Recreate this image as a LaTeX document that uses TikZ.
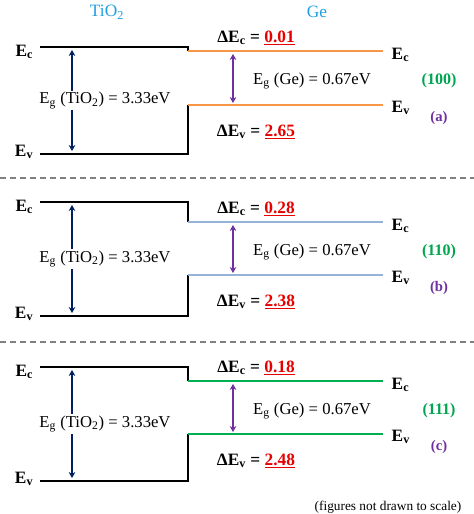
\documentclass[tikz,border=0pt]{standalone}
\usepackage{fontspec}
\setmainfont{Liberation Serif}
\usetikzlibrary{arrows.meta}

\definecolor{headblue}{RGB}{30,160,225}
\definecolor{georange}{RGB}{247,150,70}
\definecolor{gelblue}{RGB}{149,179,215}
\definecolor{gegreen}{RGB}{0,176,80}
\definecolor{arrnavy}{RGB}{0,32,96}
\definecolor{arrpurple}{RGB}{112,48,160}
\definecolor{valred}{RGB}{230,0,0}
\definecolor{hklgreen}{RGB}{0,165,80}

\newcommand{\val}[1]{\textcolor{valred}{\underline{#1}}}

\tikzset{
    tio/.style={line width=1.5pt, black},
    gelevel/.style={line width=2pt},
    eglbl/.style={fill=white, inner sep=1pt},
    band/.style={font=\fontsize{13}{15}\selectfont\bfseries},
    edge/.style={font=\fontsize{13}{15}\selectfont\bfseries},
    sep/.style={gray, line width=0.9pt, dash pattern=on 4.5pt off 3pt}
}

\begin{document}
\begin{tikzpicture}[x=0.75pt, y=-0.75pt, >={Stealth[length=4.5pt,width=5pt]},
    font=\fontsize{12.5}{14}\selectfont]
    \useasboundingbox (0,0) rectangle (474,514);

    % 标题
    \node[headblue, font=\fontsize{13}{15}\selectfont] (hTi) at (107,12) {TiO\textsubscript{2}};
    \node[headblue, font=\fontsize{13}{15}\selectfont] (hGe) at (317,12) {Ge};

    % 分隔线
    \coordinate (s1L) at (0,178);
    \coordinate (s1R) at (474,178);
    \coordinate (s2L) at (0,342);
    \coordinate (s2R) at (474,342);
    \draw[sep] (s1L) -- (s1R);
    \draw[sep] (s2L) -- (s2R);

    % 三个晶面
    \foreach \p/\ytc/\ygc/\ygv/\ytv/\col/\dEc/\dEv/\hkl/\tg in {
        a/47/51/105/154/georange/0.01/2.65/100/a,
        b/202/222/275/316/gelblue/0.28/2.38/110/b,
        c/367/381/434/481/gegreen/0.18/2.48/111/c}
    {
        \coordinate (tc\p) at (40,\ytc);
        \coordinate (kc\p) at (188,\ytc);
        \coordinate (gc\p) at (188,\ygc);
        \coordinate (ec\p) at (383,\ygc);
        \coordinate (tv\p) at (40,\ytv);
        \coordinate (kv\p) at (188,\ytv);
        \coordinate (gv\p) at (188,\ygv);
        \coordinate (ev\p) at (383,\ygv);
        \draw[tio] (tc\p) -- (kc\p) -- (gc\p);
        \draw[tio] (tv\p) -- (kv\p) -- (gv\p);
        \draw[gelevel, \col] (gc\p) -- (ec\p);
        \draw[gelevel, \col] (gv\p) -- (ev\p);

        % 禁带箭头
        \coordinate (at\p) at (72,\ytc+3);
        \coordinate (ab\p) at (72,\ytv-3);
        \coordinate (gt\p) at (233,\ygc+3);
        \coordinate (gb\p) at (233,\ygv-2);
        \draw[<->, arrnavy, line width=1.1pt] (at\p) -- (ab\p);
        \draw[<->, arrpurple, line width=1.1pt] (gt\p) -- (gb\p);

        \node[eglbl] (egt\p) at (105,{(\ytc+\ytv)/2}) {E\textsubscript{g} (TiO\textsubscript{2}) = 3.33eV};
        \node (egg\p) at (312,\ygc+30) {E\textsubscript{g} (Ge) = 0.67eV};

        % 能带偏移
        \node[band] (dc\p) at (256,\ygc-13) {ΔE\textsubscript{c} = \val{\dEc}};
        \node[band] (dv\p) at (256,\ygv+27) {ΔE\textsubscript{v} = \val{\dEv}};

        \node[edge, anchor=east] (lc\p) at (38,\ytc+5) {E\textsubscript{c}};
        \node[edge, anchor=east] (lv\p) at (38,\ytv-2) {E\textsubscript{v}};
        \node[edge, anchor=west] (rc\p) at (387,\ygc+4) {E\textsubscript{c}};
        \node[edge, anchor=west] (rv\p) at (387,\ygv+3) {E\textsubscript{v}};

        \node[hklgreen, font=\fontsize{12}{14}\selectfont\bfseries] (hkl\p) at (439,{(\ygc+\ygv)/2+3}) {(\hkl)};
        \node[arrpurple, font=\fontsize{11}{13}\selectfont\bfseries] (tag\p) at (439,\ygv+13) {(\tg)};
    }

    \node[font=\fontsize{10}{12}\selectfont] (note) at (388,507) {(figures not drawn to scale)};
\end{tikzpicture}
\end{document}
